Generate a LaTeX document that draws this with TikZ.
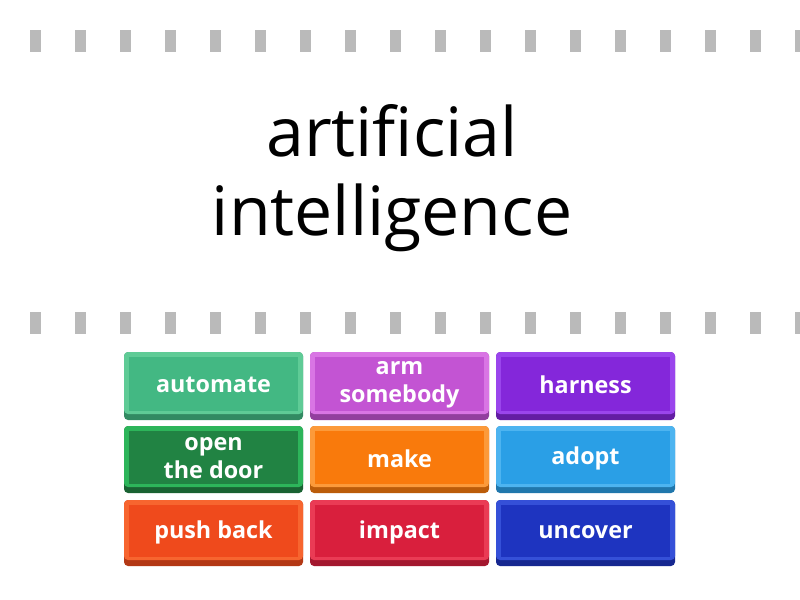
\documentclass[tikz,border=0pt]{standalone}
\usepackage{fontspec}
\setmainfont{Open Sans}
\begin{document}
\begin{tikzpicture}[x=0.75pt,y=-0.75pt,
  dashbar/.style={fill=black!27,draw=none},
  tiletxt/.style={text=white,font=\fontsize{17.5}{21}\bfseries\selectfont,align=center}]
\useasboundingbox (0,0) rectangle (800,600);
\fill[white] (0,0) rectangle (800,600);
\foreach \k in {0,...,17}{
  \fill[dashbar] (30+45*\k,30) rectangle ++(11,22);
  \fill[dashbar] (30+45*\k,312) rectangle ++(11,22);
}
\node (title) at (392,178) [font=\fontsize{51}{59}\selectfont,align=center] {artificial\\intelligence};
\newcommand{\tile}[6]{%
  \definecolor{tb}{HTML}{#4}\definecolor{tl}{HTML}{#5}%
  \fill[tb!75!black,rounded corners=3pt] (#1,#2) rectangle ++(179,#3);
  \fill[tl,rounded corners=3pt] (#1,#2) rectangle ++(179,#3-6);
  \fill[tb] (#1+5,#2+5) rectangle ++(169,#3-14);
  \node[tiletxt] (#6) at (#1+89.5,#2+#3/2-1) {\tilelabel};}
\def\tilelabel{automate}\tile{124}{352}{68}{43B883}{5FCB96}{t1}
\def\tilelabel{open\\the door}\tile{124}{426}{67}{218343}{2DB55A}{t2}
\def\tilelabel{push back}\tile{124}{500}{66}{EF4A1C}{F7652F}{t3}
\def\tilelabel{arm\\somebody}\tile{310}{352}{68}{C354D3}{D975E4}{t4}
\def\tilelabel{make}\tile{310}{426}{67}{F97A0C}{FC9A3A}{t5}
\def\tilelabel{impact}\tile{310}{500}{66}{D91F3D}{EA3B55}{t6}
\def\tilelabel{harness}\tile{496}{352}{68}{8427DA}{9A45EC}{t7}
\def\tilelabel{adopt}\tile{496}{426}{67}{2A9FE6}{4DB4F0}{t8}
\def\tilelabel{uncover}\tile{496}{500}{66}{1E34C0}{3550D8}{t9}
\end{tikzpicture}
\end{document}
